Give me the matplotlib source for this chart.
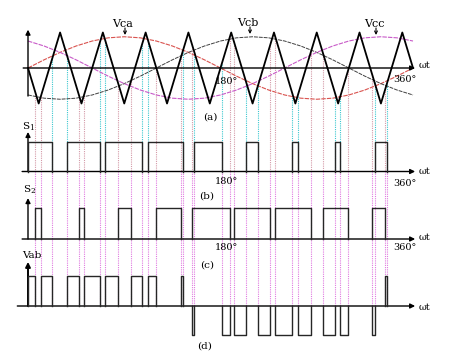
import numpy as np
import matplotlib.pyplot as plt

# canvas size and where 0 deg / 360 deg sit horizontally (px)
W, H = 474, 359
PX0, PX360 = 28, 413

# reference waves every 15 deg (a)
ANGLES = list(range(0, 361, 15))
VCA = [0, .23, .44, .62, .76, .85, .88, .85, .76, .62, .44, .23, 0,
       -.23, -.44, -.62, -.76, -.85, -.88, -.85, -.76, -.62, -.44, -.23, 0]
VCB = [-.76, -.85, -.88, -.85, -.76, -.62, -.44, -.23, 0, .23, .44, .62, .76,
       .85, .88, .85, .76, .62, .44, .23, 0, -.23, -.44, -.62, -.76]
VCC = [.76, .62, .44, .23, 0, -.23, -.44, -.62, -.76, -.85, -.88, -.85, -.76,
       -.62, -.44, -.23, 0, .23, .44, .62, .76, .85, .88, .85, .76]

# triangular carrier corners
CARRIER_DEG = [0, 10, 30, 50, 70, 90, 110, 130, 150, 170, 190, 210, 230,
               250, 270, 290, 310, 330, 350, 360]
CARRIER_VAL = [0, -1, 1, -1, 1, -1, 1, -1, 1, -1, 1, -1, 1,
               -1, 1, -1, 1, -1, 1, 0]

# switching pulses (start, end) in degrees
S1_PULSES = [(0, 22.5), (36.5, 67), (72, 107), (112.5, 144.5), (155.5, 181),
             (203.5, 215), (247, 252), (287, 292), (324, 335.5)]
S2_PULSES = [(7, 12.5), (47.7, 52.4), (84.5, 96.3), (119.7, 143.5), (153.8, 189),
             (192.5, 226.3), (231, 264.2), (276, 299.2), (321.8, 334)]
VAB_POS = [(0, 7), (12.5, 22.5), (36.5, 47.7), (52.4, 67), (72, 84.5),
           (96.3, 107), (112.5, 119.7), (143.5, 144.5), (334, 335.5)]
VAB_NEG = [(153.8, 155.5), (181, 189), (192.5, 203.5), (215, 226.3), (231, 247),
           (252, 264.2), (276, 287), (292, 299.2), (321.8, 324)]

# panel rows: (axis line px from top, px per unit)
ROW_TOP = (68, 35.5)
ROW_S1 = (171.5, 29.5)
ROW_S2 = (239, 31)
ROW_VAB = (306, 30)

plt.rcParams['font.family'] = ['DejaVu Serif']
plt.rcParams['mathtext.fontset'] = 'dejavuserif'

fig = plt.figure(figsize=(W / 100, H / 100), dpi=100)
k = 360 / (PX360 - PX0)
XL = (-PX0 * k, (W - PX0) * k)


def panel(row):
    base, unit = row
    ax = fig.add_axes([0, 0, 1, 1])
    ax.set_xlim(*XL)
    ax.set_ylim((base - H) / unit, base / unit)
    ax.axis('off')
    ax.patch.set_visible(False)
    return ax


def arrow(ax, p0, p1, lw=1.0, ms=7):
    ax.annotate('', xy=p1, xytext=p0,
                arrowprops=dict(arrowstyle='-|>', color='black', lw=lw,
                                mutation_scale=ms, shrinkA=0, shrinkB=0))


def pulses(ax, plist, h):
    for a, b in plist:
        ax.plot([a, a, b, b], [0, h, h, 0], color='#262626', lw=1.0, zorder=4)


def top_units(ypx):
    return (ROW_TOP[0] - ypx) / ROW_TOP[1]


ax_a = panel(ROW_TOP)
ax_b = panel(ROW_S1)
ax_c = panel(ROW_S2)
ax_d = panel(ROW_VAB)

# guide lines from the crossings down to the Vab axis
y_s1, y_vab = top_units(ROW_S1[0]), top_units(ROW_VAB[0])
dot = (0, (1, 1))
s1_edges = [e for p in S1_PULSES for e in p if e > 0]
s2_edges = [e for p in S2_PULSES for e in p]
for e in s1_edges:
    y0 = np.interp(e, CARRIER_DEG, CARRIER_VAL)
    ax_a.plot([e, e], [y0, y_s1], color='#3cc8d0', lw=0.8, ls=dot, zorder=1)
    ax_a.plot([e, e], [y_s1, y_vab], color='#e07ae0', lw=0.8, ls=dot, zorder=1)
for e in s2_edges:
    y0 = np.interp(e, CARRIER_DEG, CARRIER_VAL)
    ax_a.plot([e, e], [y0, y_s1], color='#d49aa8', lw=0.8, ls=dot, zorder=1)
    ax_a.plot([e, e], [y_s1, y_vab], color='#e07ae0', lw=0.8, ls=dot, zorder=1)

# (a) carrier and references
ax_a.plot(ANGLES, VCA, color='#d9534f', lw=0.8, ls=(0, (4, 1)), zorder=3)
ax_a.plot(ANGLES, VCB, color='#404040', lw=0.7, ls=(0, (4, 1)), zorder=3)
ax_a.plot(ANGLES, VCC, color='#c85ac8', lw=0.8, ls=(0, (4, 1)), zorder=3)
ax_a.plot(CARRIER_DEG, CARRIER_VAL, color='black', lw=1.3, zorder=4)
arrow(ax_a, (-4.5, 0), (362, 0))
arrow(ax_a, (0, -0.79), (0, 1.08))

# (b) S1
pulses(ax_b, S1_PULSES, 1)
arrow(ax_b, (-5.5, 0), (362, 0))
arrow(ax_b, (0, 0), (0, 1.34))

# (c) S2
pulses(ax_c, S2_PULSES, 1)
arrow(ax_c, (-5.5, 0), (362, 0))
arrow(ax_c, (0, 0), (0, 1.32))

# (d) Vab
pulses(ax_d, VAB_POS, 1)
pulses(ax_d, VAB_NEG, -0.97)
arrow(ax_d, (-10, 0), (362, 0))
arrow(ax_d, (0, 0), (0, 1.47), lw=1.4)

# labels on a pixel canvas
cv = fig.add_axes([0, 0, 1, 1])
cv.set_xlim(0, W)
cv.set_ylim(H, 0)
cv.axis('off')
cv.patch.set_visible(False)

for txt, x, y in [('Vca', 123, 24), ('Vcb', 248, 23), ('Vcc', 374, 24)]:
    cv.text(x, y, txt, fontsize=8, ha='center', va='center')
    cv.annotate('', xy=(x + 2, y + 11), xytext=(x + 2, y + 4),
                arrowprops=dict(arrowstyle='->', color='black', lw=0.8,
                                mutation_scale=5, shrinkA=0, shrinkB=0))

for y180, y360 in [(82, 80), (181, 183), (248, 248)]:
    cv.text(226, y180, '180°', fontsize=7, ha='center', va='center')
    cv.text(405, y360, '360°', fontsize=7, ha='center', va='center')

for y in (66, 171, 237, 307):
    cv.text(419, y, 'ωt', fontsize=7, ha='left', va='center')

cv.text(210, 117, '(a)', fontsize=7.5, ha='center', va='center')
cv.text(207, 196, '(b)', fontsize=7.5, ha='center', va='center')
cv.text(207, 265, '(c)', fontsize=7.5, ha='center', va='center')
cv.text(205, 346, '(d)', fontsize=7.5, ha='center', va='center')

cv.text(28, 127, 'S$_1$', fontsize=7.5, ha='center', va='center')
cv.text(30, 190, 'S$_2$', fontsize=7.5, ha='center', va='center')
cv.text(32, 255, 'Vab', fontsize=7.5, ha='center', va='center')

fig.savefig('out.png', dpi=100)
